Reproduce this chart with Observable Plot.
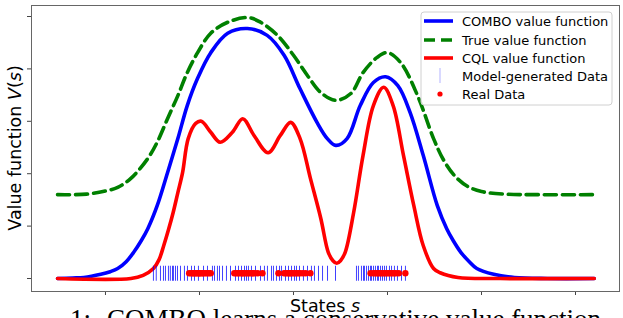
<!DOCTYPE html>
<html>
<head>
<meta charset="utf-8">
<script src="https://cdn.jsdelivr.net/npm/d3@7"></script>
<script src="https://cdn.jsdelivr.net/npm/@observablehq/plot@0.6"></script>
<style>
  html, body { margin: 0; padding: 0; background: white; }
  #chart { width: 623px; height: 318px; overflow: hidden; }
</style>
</head>
<body>
<div id="chart"></div>
<script>
// ---- data ----
const xTicks = [0, 1, 2, 3, 4, 5];
const yTicks = [0, 1, 2, 3, 4, 5];

const trueX = [-0.51, -0.2, 0.0, 0.13, 0.27, 0.45, 0.55, 0.66, 0.77, 0.87, 0.98, 1.12, 1.30, 1.52, 1.65, 1.83, 2.00, 2.15, 2.29, 2.45, 2.61, 2.74, 2.89, 3.00, 3.14, 3.32, 3.49, 3.60, 3.72, 3.85, 4.00, 4.25, 4.60, 5.20];
const trueV = [1.60, 1.61, 1.67, 1.74, 1.91, 2.29, 2.60, 3.05, 3.49, 3.93, 4.31, 4.68, 4.89, 4.98, 4.89, 4.64, 4.26, 3.87, 3.55, 3.40, 3.53, 3.93, 4.22, 4.31, 4.12, 3.49, 2.67, 2.25, 1.95, 1.76, 1.66, 1.61, 1.60, 1.60];

const comboX = [-0.51, -0.35, -0.23, -0.05, 0.05, 0.13, 0.22, 0.30, 0.38, 0.45, 0.55, 0.66, 0.77, 0.87, 0.98, 1.12, 1.30, 1.51, 1.72, 1.90, 2.07, 2.25, 2.36, 2.45, 2.57, 2.71, 2.85, 2.98, 3.11, 3.24, 3.38, 3.53, 3.63, 3.70, 3.78, 3.87, 3.95, 4.13, 4.35, 4.70, 5.20];
const comboV = [0.0, 0.01, 0.02, 0.08, 0.13, 0.19, 0.32, 0.50, 0.72, 0.95, 1.39, 2.02, 2.67, 3.30, 3.82, 4.31, 4.68, 4.77, 4.64, 4.26, 3.62, 2.98, 2.67, 2.54, 2.67, 3.30, 3.74, 3.85, 3.68, 3.17, 2.35, 1.39, 0.95, 0.72, 0.50, 0.32, 0.19, 0.08, 0.02, 0.0, 0.0];

const cqlX = [-0.51, 0.27, 0.40, 0.51, 0.57, 0.62, 0.67, 0.72, 0.77, 0.82, 0.88, 0.96, 1.02, 1.12, 1.22, 1.35, 1.46, 1.58, 1.73, 1.86, 1.97, 2.07, 2.18, 2.29, 2.37, 2.42, 2.46, 2.50, 2.55, 2.64, 2.74, 2.85, 2.96, 3.06, 3.17, 3.28, 3.38, 3.49, 3.56, 3.75, 4.20, 5.20];
const cqlV = [0, 0, 0.06, 0.19, 0.36, 0.63, 0.93, 1.26, 1.64, 2.02, 2.67, 2.96, 3.00, 2.79, 2.60, 2.79, 3.05, 2.73, 2.40, 2.73, 2.98, 2.67, 1.91, 1.15, 0.50, 0.34, 0.29, 0.34, 0.50, 1.26, 2.35, 3.30, 3.65, 3.30, 2.35, 1.39, 0.63, 0.19, 0.11, 0.02, 0, 0];

const modelData = [0.51, 0.54, 0.585, 0.617, 0.638, 0.67, 0.69, 0.713, 0.723, 0.745, 0.766, 0.798, 0.84, 0.872, 0.915, 0.947, 0.989, 1.043, 1.085, 1.138, 1.16, 1.191, 1.213, 1.245, 1.287, 1.33, 1.383, 1.415, 1.447, 1.479, 1.5, 1.521, 1.553, 1.596, 1.649, 1.691, 1.723, 1.766, 1.787, 1.819, 1.851, 1.872, 1.915, 1.947, 1.979, 2.011, 2.032, 2.064, 2.106, 2.149, 2.191, 2.223, 2.266, 2.309, 2.362, 2.447, 2.67, 2.691, 2.723, 2.745, 2.755, 2.777, 2.798, 2.819, 2.83, 2.851, 2.872, 2.894, 2.904, 2.926, 2.947, 2.968, 2.989, 3.021, 3.043, 3.074, 3.106, 3.149, 3.191];
const realData = [0.89, 0.91, 0.93, 0.94, 0.96, 0.97, 0.99, 1.00, 1.01, 1.03, 1.04, 1.06, 1.08, 1.10, 1.12,
  1.37, 1.39, 1.41, 1.43, 1.45, 1.46, 1.48, 1.50, 1.52, 1.54, 1.56, 1.57, 1.59, 1.62, 1.67,
  1.84, 1.90, 1.92, 1.94, 1.96, 1.97, 1.99, 2.01, 2.03, 2.05, 2.07, 2.10, 2.13, 2.18,
  2.82, 2.85, 2.87, 2.89, 2.91, 2.93, 2.95, 2.97, 2.99, 3.01, 3.03, 3.05, 3.07, 3.09, 3.12, 3.19];
const dataLevel = 0.1;

const legendLabels = ["COMBO value function", "True value function", "CQL value function", "Model-generated Data", "Real Data"];
const xLabel = "States ";
const yLabel = "Value function ";
const captionNum = "1:";
const captionText = "COMBO learns a conservative value function";

// ---- build ----
const trueRows = trueX.map((x, i) => ({x, v: trueV[i]}));
const comboRows = comboX.map((x, i) => ({x, v: comboV[i]}));
const cqlRows = cqlX.map((x, i) => ({x, v: cqlV[i]}));

const vline = {
  draw(context, size) {
    const h = Math.sqrt(size / Math.PI);
    context.moveTo(0, -h);
    context.lineTo(0, h);
  }
};

const plot = Plot.plot({
  width: 623,
  height: 318,
  marginLeft: 31,
  marginRight: 4,
  marginTop: 5,
  marginBottom: 27,
  style: {background: "white", overflow: "hidden"},
  x: {domain: [-0.787, 5.468]},
  y: {domain: [-0.248, 5.21]},
  marks: [
    Plot.axisX({ticks: xTicks, tickFormat: () => "", tickSize: 4, stroke: "#444", label: null}),
    Plot.axisY({ticks: yTicks, tickFormat: () => "", tickSize: 4, stroke: "#444", label: null}),
    Plot.line(comboRows, {x: "x", y: "v", stroke: "#0000ff", strokeWidth: 3.6, curve: "catmull-rom"}),
    Plot.line(trueRows, {x: "x", y: "v", stroke: "#008000", strokeWidth: 3.6, strokeDasharray: "12,6", curve: "catmull-rom"}),
    Plot.line(cqlRows, {x: "x", y: "v", stroke: "#ff0000", strokeWidth: 3.6, curve: "catmull-rom"}),
    Plot.dot(modelData, {x: d => d, y: () => dataLevel, symbol: vline, r: 7.5, stroke: "#0000ff", strokeWidth: 1, strokeOpacity: 0.75, fill: "none"}),
    Plot.dot(realData, {x: d => d, y: () => dataLevel, r: 3.2, fill: "#ff0000", stroke: "none"}),
    Plot.frame({stroke: "#666", strokeWidth: 1})
  ]
});

document.getElementById("chart").appendChild(plot);

const svg = d3.select(plot);

// axis labels
const fontSans = "DejaVu Sans, sans-serif";
const yl = svg.append("text")
  .attr("transform", "translate(21,148) rotate(-90)")
  .attr("text-anchor", "middle")
  .attr("font-family", fontSans).attr("font-size", 17.5).attr("fill", "black");
yl.append("tspan").text(yLabel);
yl.append("tspan").attr("font-style", "italic").text("V");
yl.append("tspan").text("(");
yl.append("tspan").attr("font-style", "italic").text("s");
yl.append("tspan").text(")");

const xl = svg.append("text")
  .attr("x", 325).attr("y", 312)
  .attr("text-anchor", "middle")
  .attr("font-family", fontSans).attr("font-size", 17.5).attr("fill", "black");
xl.append("tspan").text(xLabel);
xl.append("tspan").attr("font-style", "italic").text("s");

// legend
const lg = svg.append("g");
lg.append("rect").attr("x", 421).attr("y", 12).attr("width", 191).attr("height", 93).attr("rx", 3)
  .attr("fill", "white").attr("fill-opacity", 0.8).attr("stroke", "#d0d0d0").attr("stroke-width", 1);
const rowsY = [21, 40, 58, 76, 94];
lg.append("line").attr("x1", 424).attr("x2", 453).attr("y1", rowsY[0]).attr("y2", rowsY[0]).attr("stroke", "#0000ff").attr("stroke-width", 3.6);
lg.append("line").attr("x1", 424).attr("x2", 453).attr("y1", rowsY[1]).attr("y2", rowsY[1]).attr("stroke", "#008000").attr("stroke-width", 3.6).attr("stroke-dasharray", "11,6");
lg.append("line").attr("x1", 424).attr("x2", 453).attr("y1", rowsY[2]).attr("y2", rowsY[2]).attr("stroke", "#ff0000").attr("stroke-width", 3.6);
lg.append("line").attr("x1", 440).attr("x2", 440).attr("y1", rowsY[3] - 8).attr("y2", rowsY[3] + 7).attr("stroke", "#0000ff").attr("stroke-opacity", 0.3).attr("stroke-width", 1);
lg.append("circle").attr("cx", 440).attr("cy", rowsY[4]).attr("r", 2.6).attr("fill", "#ff0000");
legendLabels.forEach((t, i) => {
  lg.append("text").attr("x", 462).attr("y", rowsY[i]).attr("dy", "0.36em")
    .attr("text-anchor", "start")
    .attr("font-family", fontSans).attr("font-size", 13).attr("fill", "black").text(t);
});

// cropped caption below
svg.append("text").attr("x", 70).attr("y", 328).attr("text-anchor", "start")
  .attr("font-family", "Liberation Serif, serif").attr("font-size", 27).attr("fill", "black").text(captionNum);
svg.append("text").attr("x", 107).attr("y", 328).attr("text-anchor", "start")
  .attr("font-family", "Liberation Serif, serif").attr("font-size", 27).attr("fill", "black").text(captionText);
</script>
</body>
</html>
